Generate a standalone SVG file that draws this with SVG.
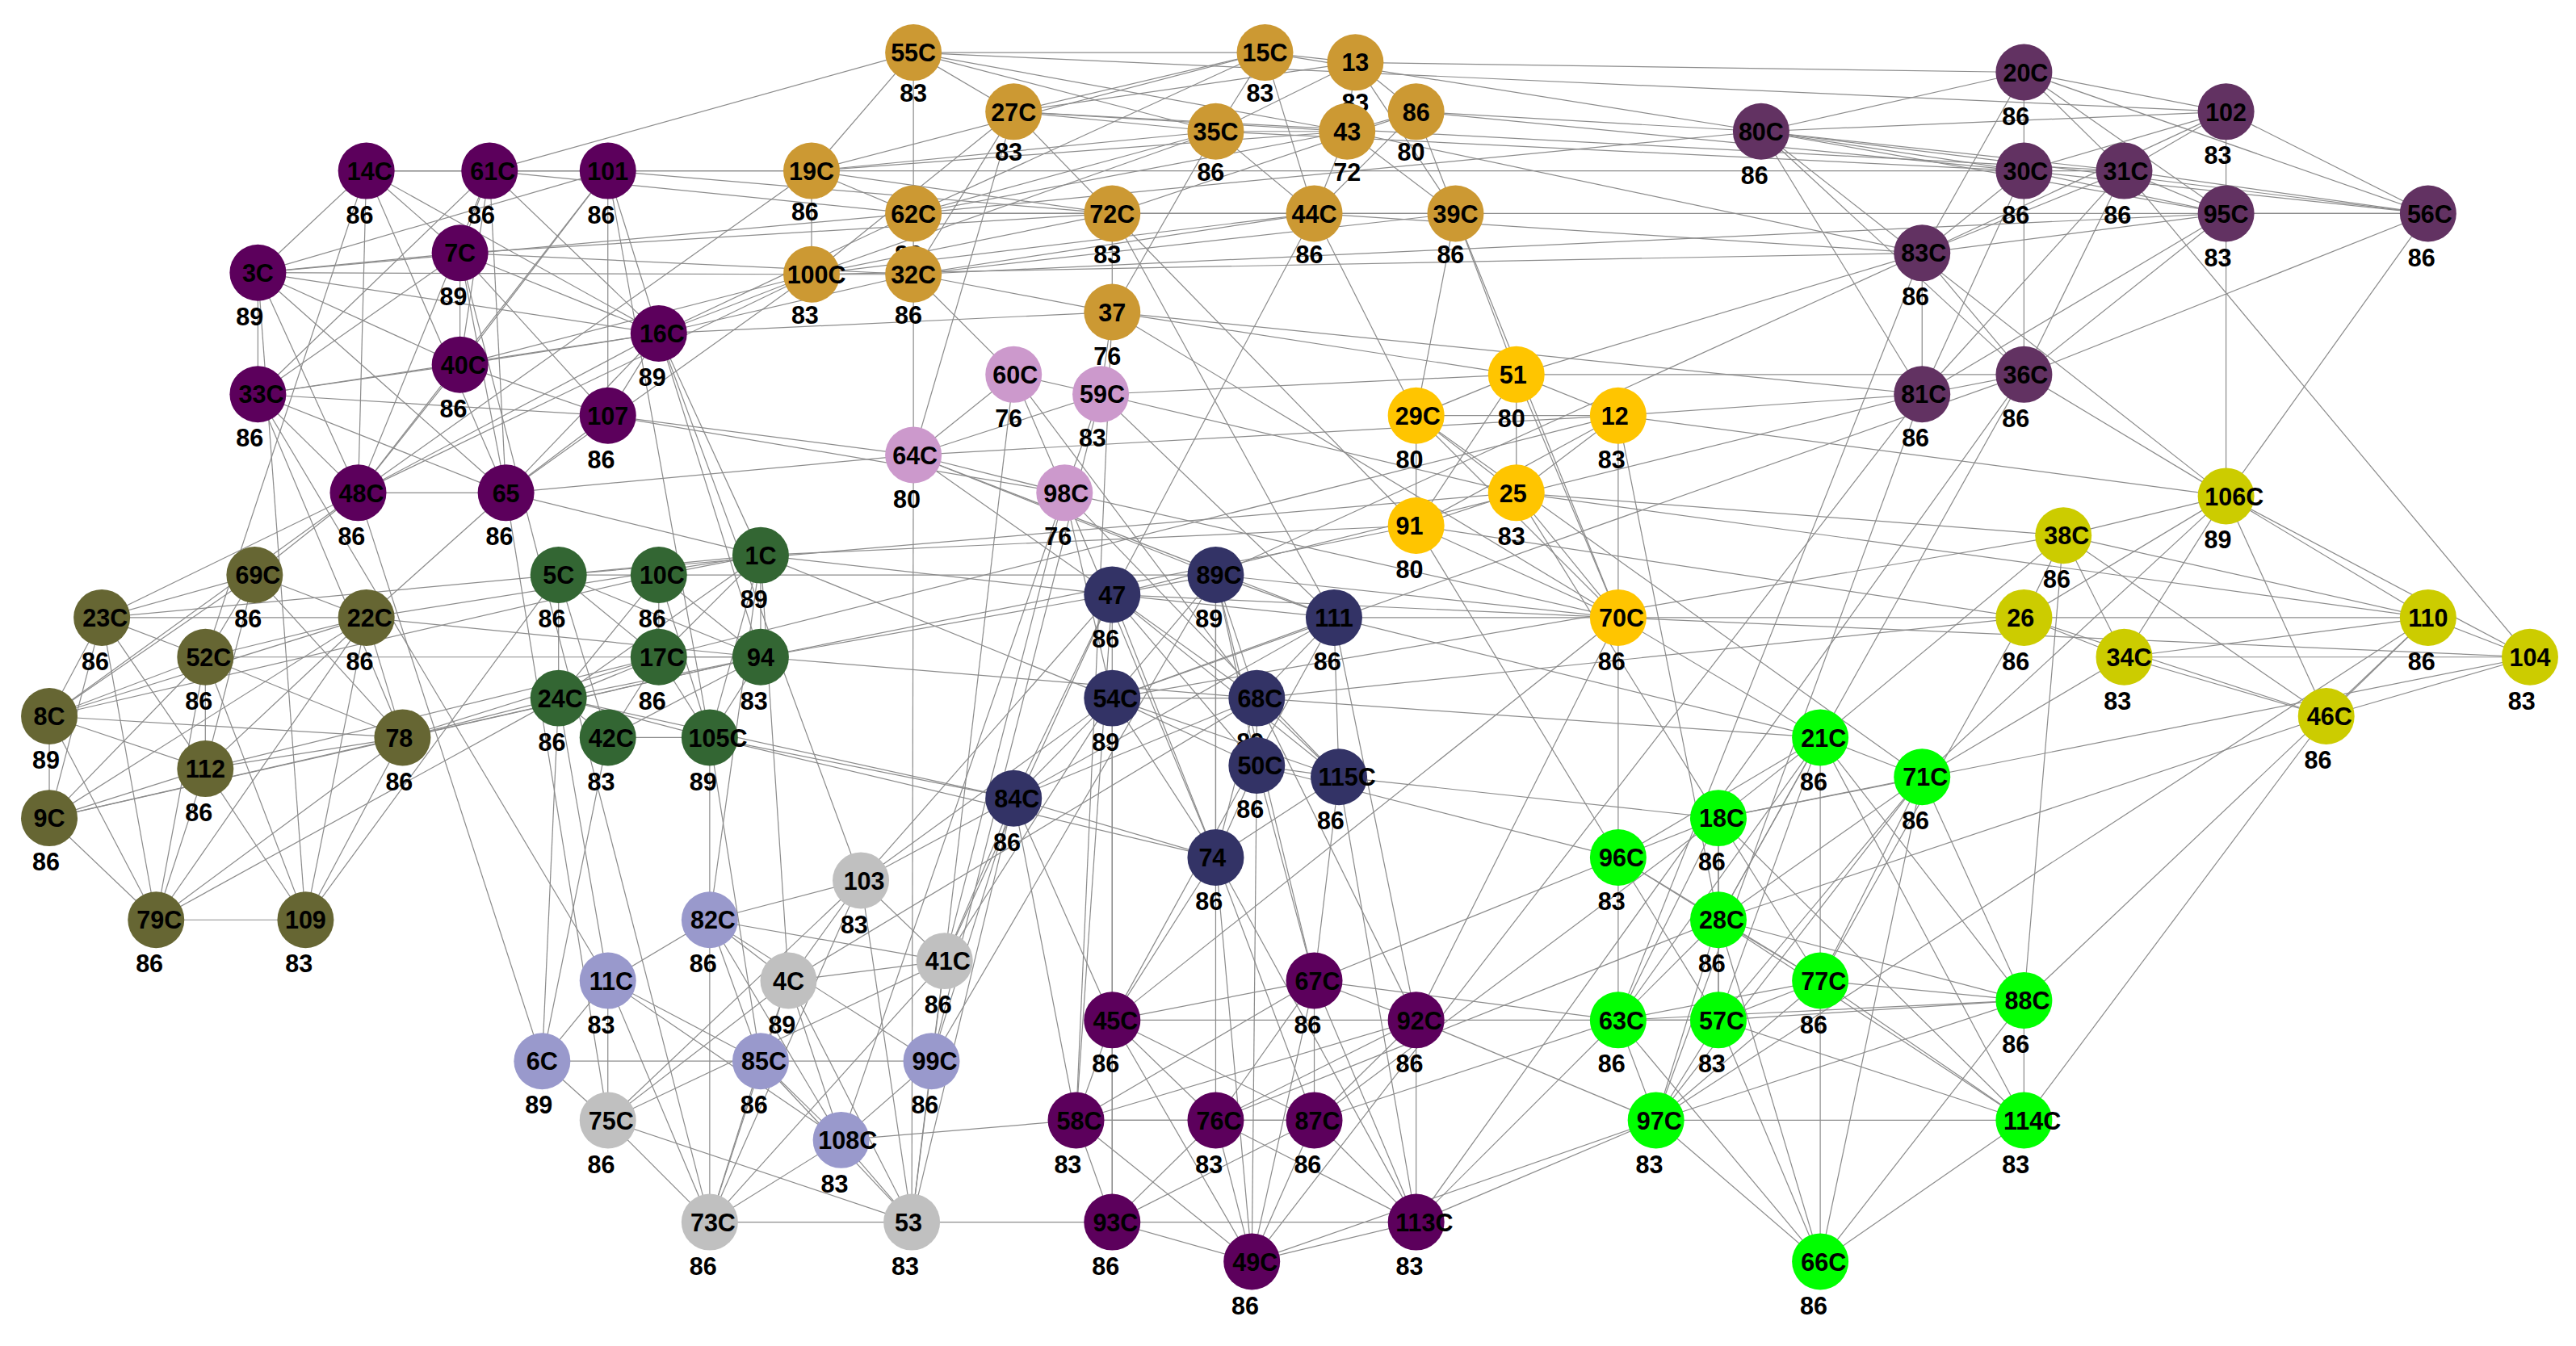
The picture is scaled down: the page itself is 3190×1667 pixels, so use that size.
<svg xmlns="http://www.w3.org/2000/svg" width="3190" height="1667" viewBox="0 0 3190 1667">
<style>
line{stroke:#8c8c8c;stroke-width:0.6}
circle{stroke:none}
text{font-family:"Liberation Sans",Arial,sans-serif;font-weight:bold;font-size:15px;text-anchor:middle;fill:#000}
.pu{fill:#5c005c}.go{fill:#cc9933}.pk{fill:#cc99cc}.ye{fill:#ffc500}.pl{fill:#623262}.oy{fill:#cccc00}.dg{fill:#336633}.ol{fill:#666633}.nv{fill:#333366}.lv{fill:#9999cc}.gr{fill:#c0c0c0}.gn{fill:#00ff00}
</style>
<rect width="3190" height="1667" fill="#fff"/>
<g transform="scale(2.0344)">
<g id="connectors">
<line x1="556" y1="32" x2="770" y2="32"/><line x1="556" y1="32" x2="617" y2="68"/><line x1="556" y1="32" x2="556" y2="130"/><line x1="556" y1="32" x2="740" y2="80"/><line x1="556" y1="32" x2="820" y2="80"/><line x1="556" y1="32" x2="494" y2="104"/>
<line x1="770" y1="32" x2="617" y2="68"/><line x1="770" y1="32" x2="740" y2="80"/><line x1="770" y1="32" x2="825" y2="38"/><line x1="770" y1="32" x2="800" y2="130"/><line x1="770" y1="32" x2="556" y2="130"/><line x1="770" y1="32" x2="494" y2="104"/>
<line x1="825" y1="38" x2="617" y2="68"/><line x1="825" y1="38" x2="740" y2="80"/><line x1="825" y1="38" x2="820" y2="80"/><line x1="825" y1="38" x2="862" y2="68"/><line x1="825" y1="38" x2="886" y2="130"/>
<line x1="617" y1="68" x2="740" y2="80"/><line x1="617" y1="68" x2="820" y2="80"/><line x1="617" y1="68" x2="677" y2="130"/><line x1="617" y1="68" x2="494" y2="167"/><line x1="617" y1="68" x2="556" y2="167"/>
<line x1="740" y1="80" x2="820" y2="80"/><line x1="740" y1="80" x2="494" y2="104"/><line x1="740" y1="80" x2="556" y2="130"/><line x1="740" y1="80" x2="494" y2="167"/><line x1="740" y1="80" x2="800" y2="130"/>
<line x1="820" y1="80" x2="862" y2="68"/><line x1="820" y1="80" x2="800" y2="130"/><line x1="820" y1="80" x2="886" y2="130"/><line x1="820" y1="80" x2="556" y2="130"/><line x1="820" y1="80" x2="494" y2="104"/>
<line x1="862" y1="68" x2="886" y2="130"/><line x1="862" y1="68" x2="800" y2="130"/><line x1="862" y1="68" x2="677" y2="130"/>
<line x1="494" y1="104" x2="556" y2="130"/><line x1="494" y1="104" x2="677" y2="130"/><line x1="494" y1="104" x2="494" y2="167"/>
<line x1="556" y1="130" x2="677" y2="130"/><line x1="556" y1="130" x2="800" y2="130"/><line x1="556" y1="130" x2="886" y2="130"/><line x1="556" y1="130" x2="556" y2="167"/>
<line x1="677" y1="130" x2="800" y2="130"/><line x1="677" y1="130" x2="677" y2="190"/><line x1="800" y1="130" x2="886" y2="130"/>
<line x1="494" y1="167" x2="556" y2="167"/><line x1="494" y1="167" x2="677" y2="130"/><line x1="556" y1="167" x2="886" y2="130"/><line x1="556" y1="167" x2="677" y2="190"/><line x1="677" y1="190" x2="740" y2="80"/><line x1="494" y1="167" x2="800" y2="130"/><line x1="556" y1="167" x2="800" y2="130"/>
<line x1="223" y1="104" x2="298" y2="104"/><line x1="223" y1="104" x2="370" y2="104"/><line x1="223" y1="104" x2="157" y2="166"/><line x1="223" y1="104" x2="280" y2="154"/><line x1="223" y1="104" x2="401" y2="203"/><line x1="223" y1="104" x2="218" y2="300"/><line x1="223" y1="104" x2="308" y2="300"/>
<line x1="298" y1="104" x2="370" y2="104"/><line x1="298" y1="104" x2="280" y2="154"/><line x1="298" y1="104" x2="280" y2="222"/><line x1="298" y1="104" x2="401" y2="203"/><line x1="298" y1="104" x2="218" y2="300"/><line x1="298" y1="104" x2="308" y2="300"/><line x1="298" y1="104" x2="157" y2="240"/>
<line x1="370" y1="104" x2="157" y2="166"/><line x1="370" y1="104" x2="401" y2="203"/><line x1="370" y1="104" x2="370" y2="253"/><line x1="370" y1="104" x2="218" y2="300"/><line x1="370" y1="104" x2="280" y2="222"/>
<line x1="157" y1="166" x2="280" y2="154"/><line x1="157" y1="166" x2="401" y2="203"/><line x1="157" y1="166" x2="280" y2="222"/><line x1="157" y1="166" x2="157" y2="240"/><line x1="157" y1="166" x2="218" y2="300"/><line x1="157" y1="166" x2="308" y2="300"/>
<line x1="280" y1="154" x2="280" y2="222"/><line x1="280" y1="154" x2="370" y2="253"/><line x1="280" y1="154" x2="401" y2="203"/><line x1="280" y1="154" x2="157" y2="240"/><line x1="280" y1="154" x2="308" y2="300"/>
<line x1="280" y1="222" x2="157" y2="240"/><line x1="280" y1="222" x2="370" y2="253"/><line x1="280" y1="222" x2="401" y2="203"/><line x1="280" y1="222" x2="218" y2="300"/>
<line x1="401" y1="203" x2="370" y2="253"/><line x1="401" y1="203" x2="308" y2="300"/><line x1="401" y1="203" x2="218" y2="300"/><line x1="157" y1="240" x2="370" y2="253"/><line x1="157" y1="240" x2="218" y2="300"/><line x1="157" y1="240" x2="308" y2="300"/><line x1="370" y1="253" x2="308" y2="300"/><line x1="218" y1="300" x2="308" y2="300"/>
<line x1="1232" y1="44" x2="1072" y2="80"/><line x1="1232" y1="44" x2="1232" y2="104"/><line x1="1232" y1="44" x2="1293" y2="104"/><line x1="1232" y1="44" x2="1355" y2="68"/><line x1="1232" y1="44" x2="1355" y2="130"/><line x1="1232" y1="44" x2="1478" y2="130"/><line x1="1232" y1="44" x2="1170" y2="154"/>
<line x1="1355" y1="68" x2="1072" y2="80"/><line x1="1355" y1="68" x2="1232" y2="104"/><line x1="1355" y1="68" x2="1293" y2="104"/><line x1="1355" y1="68" x2="1355" y2="130"/><line x1="1355" y1="68" x2="1478" y2="130"/><line x1="1355" y1="68" x2="1170" y2="154"/>
<line x1="1072" y1="80" x2="1232" y2="104"/><line x1="1072" y1="80" x2="1293" y2="104"/><line x1="1072" y1="80" x2="1355" y2="130"/><line x1="1072" y1="80" x2="1478" y2="130"/><line x1="1072" y1="80" x2="1170" y2="240"/><line x1="1072" y1="80" x2="1232" y2="228"/>
<line x1="1232" y1="104" x2="1293" y2="104"/><line x1="1232" y1="104" x2="1355" y2="130"/><line x1="1232" y1="104" x2="1478" y2="130"/><line x1="1232" y1="104" x2="1170" y2="154"/><line x1="1232" y1="104" x2="1232" y2="228"/><line x1="1232" y1="104" x2="1170" y2="240"/>
<line x1="1293" y1="104" x2="1355" y2="130"/><line x1="1293" y1="104" x2="1478" y2="130"/><line x1="1293" y1="104" x2="1170" y2="154"/><line x1="1293" y1="104" x2="1232" y2="228"/><line x1="1293" y1="104" x2="1170" y2="240"/>
<line x1="1355" y1="130" x2="1478" y2="130"/><line x1="1355" y1="130" x2="1170" y2="154"/><line x1="1355" y1="130" x2="1170" y2="240"/><line x1="1355" y1="130" x2="1232" y2="228"/><line x1="1170" y1="154" x2="1170" y2="240"/><line x1="1170" y1="154" x2="1232" y2="228"/><line x1="1170" y1="240" x2="1232" y2="228"/><line x1="1478" y1="130" x2="1232" y2="228"/>
<line x1="923" y1="228" x2="862" y2="253"/><line x1="923" y1="228" x2="985" y2="253"/><line x1="923" y1="228" x2="862" y2="320"/><line x1="923" y1="228" x2="923" y2="300"/><line x1="923" y1="228" x2="985" y2="376"/><line x1="862" y1="253" x2="985" y2="253"/><line x1="862" y1="253" x2="862" y2="320"/><line x1="862" y1="253" x2="923" y2="300"/><line x1="862" y1="253" x2="985" y2="376"/><line x1="985" y1="253" x2="862" y2="320"/><line x1="985" y1="253" x2="923" y2="300"/><line x1="985" y1="253" x2="985" y2="376"/><line x1="862" y1="320" x2="923" y2="300"/><line x1="862" y1="320" x2="985" y2="376"/><line x1="923" y1="300" x2="985" y2="376"/>
<line x1="617" y1="228" x2="670" y2="240"/><line x1="617" y1="228" x2="556" y2="277"/><line x1="617" y1="228" x2="648" y2="300"/><line x1="670" y1="240" x2="556" y2="277"/><line x1="670" y1="240" x2="648" y2="300"/><line x1="556" y1="277" x2="648" y2="300"/>
<line x1="1355" y1="302" x2="1256" y2="326"/><line x1="1355" y1="302" x2="1232" y2="376"/><line x1="1355" y1="302" x2="1293" y2="400"/><line x1="1355" y1="302" x2="1478" y2="376"/><line x1="1355" y1="302" x2="1540" y2="400"/><line x1="1355" y1="302" x2="1416" y2="436"/><line x1="1256" y1="326" x2="1232" y2="376"/><line x1="1256" y1="326" x2="1293" y2="400"/><line x1="1256" y1="326" x2="1478" y2="376"/><line x1="1256" y1="326" x2="1416" y2="436"/><line x1="1232" y1="376" x2="1293" y2="400"/><line x1="1232" y1="376" x2="1478" y2="376"/><line x1="1232" y1="376" x2="1416" y2="436"/><line x1="1293" y1="400" x2="1478" y2="376"/><line x1="1293" y1="400" x2="1540" y2="400"/><line x1="1293" y1="400" x2="1416" y2="436"/><line x1="1478" y1="376" x2="1540" y2="400"/><line x1="1478" y1="376" x2="1416" y2="436"/><line x1="1540" y1="400" x2="1416" y2="436"/>
<line x1="340" y1="350" x2="401" y2="350"/><line x1="340" y1="350" x2="463" y2="338"/><line x1="340" y1="350" x2="401" y2="400"/><line x1="340" y1="350" x2="463" y2="400"/><line x1="340" y1="350" x2="340" y2="425"/><line x1="340" y1="350" x2="370" y2="449"/><line x1="401" y1="350" x2="463" y2="338"/><line x1="401" y1="350" x2="401" y2="400"/><line x1="401" y1="350" x2="463" y2="400"/><line x1="401" y1="350" x2="340" y2="425"/><line x1="401" y1="350" x2="432" y2="449"/><line x1="463" y1="338" x2="401" y2="400"/><line x1="463" y1="338" x2="463" y2="400"/><line x1="463" y1="338" x2="340" y2="425"/><line x1="463" y1="338" x2="432" y2="449"/><line x1="401" y1="400" x2="463" y2="400"/><line x1="401" y1="400" x2="340" y2="425"/><line x1="401" y1="400" x2="370" y2="449"/><line x1="401" y1="400" x2="432" y2="449"/><line x1="463" y1="400" x2="340" y2="425"/><line x1="463" y1="400" x2="370" y2="449"/><line x1="463" y1="400" x2="432" y2="449"/><line x1="340" y1="425" x2="370" y2="449"/><line x1="340" y1="425" x2="432" y2="449"/><line x1="370" y1="449" x2="432" y2="449"/>
<line x1="155" y1="350" x2="62" y2="376"/><line x1="155" y1="350" x2="125" y2="400"/><line x1="155" y1="350" x2="223" y2="376"/><line x1="155" y1="350" x2="30" y2="436"/><line x1="155" y1="350" x2="125" y2="468"/><line x1="155" y1="350" x2="245" y2="449"/><line x1="62" y1="376" x2="125" y2="400"/><line x1="62" y1="376" x2="223" y2="376"/><line x1="62" y1="376" x2="30" y2="436"/><line x1="62" y1="376" x2="125" y2="468"/><line x1="62" y1="376" x2="30" y2="498"/><line x1="62" y1="376" x2="95" y2="560"/><line x1="125" y1="400" x2="223" y2="376"/><line x1="125" y1="400" x2="30" y2="436"/><line x1="125" y1="400" x2="125" y2="468"/><line x1="125" y1="400" x2="30" y2="498"/><line x1="125" y1="400" x2="95" y2="560"/><line x1="125" y1="400" x2="186" y2="560"/><line x1="125" y1="400" x2="245" y2="449"/><line x1="223" y1="376" x2="30" y2="436"/><line x1="223" y1="376" x2="125" y2="468"/><line x1="223" y1="376" x2="245" y2="449"/><line x1="223" y1="376" x2="30" y2="498"/><line x1="223" y1="376" x2="186" y2="560"/><line x1="223" y1="376" x2="95" y2="560"/><line x1="30" y1="436" x2="125" y2="468"/><line x1="30" y1="436" x2="30" y2="498"/><line x1="30" y1="436" x2="95" y2="560"/><line x1="30" y1="436" x2="245" y2="449"/><line x1="125" y1="468" x2="245" y2="449"/><line x1="125" y1="468" x2="30" y2="498"/><line x1="125" y1="468" x2="95" y2="560"/><line x1="125" y1="468" x2="186" y2="560"/><line x1="245" y1="449" x2="30" y2="498"/><line x1="245" y1="449" x2="95" y2="560"/><line x1="245" y1="449" x2="186" y2="560"/><line x1="30" y1="498" x2="95" y2="560"/><line x1="95" y1="560" x2="186" y2="560"/>
<line x1="677" y1="362" x2="740" y2="350"/><line x1="677" y1="362" x2="812" y2="376"/><line x1="677" y1="362" x2="677" y2="425"/><line x1="677" y1="362" x2="765" y2="425"/><line x1="677" y1="362" x2="765" y2="466"/><line x1="677" y1="362" x2="815" y2="473"/><line x1="677" y1="362" x2="617" y2="486"/><line x1="677" y1="362" x2="740" y2="522"/><line x1="740" y1="350" x2="812" y2="376"/><line x1="740" y1="350" x2="677" y2="425"/><line x1="740" y1="350" x2="765" y2="425"/><line x1="740" y1="350" x2="765" y2="466"/><line x1="740" y1="350" x2="740" y2="522"/><line x1="812" y1="376" x2="677" y2="425"/><line x1="812" y1="376" x2="765" y2="425"/><line x1="812" y1="376" x2="815" y2="473"/><line x1="812" y1="376" x2="617" y2="486"/><line x1="677" y1="425" x2="765" y2="425"/><line x1="677" y1="425" x2="765" y2="466"/><line x1="677" y1="425" x2="815" y2="473"/><line x1="677" y1="425" x2="617" y2="486"/><line x1="677" y1="425" x2="740" y2="522"/><line x1="765" y1="425" x2="765" y2="466"/><line x1="765" y1="425" x2="815" y2="473"/><line x1="765" y1="425" x2="617" y2="486"/><line x1="765" y1="425" x2="740" y2="522"/><line x1="765" y1="466" x2="815" y2="473"/><line x1="765" y1="466" x2="740" y2="522"/><line x1="617" y1="486" x2="740" y2="522"/><line x1="815" y1="473" x2="740" y2="522"/>
<line x1="432" y1="560" x2="370" y2="597"/><line x1="432" y1="560" x2="463" y2="646"/><line x1="432" y1="560" x2="567" y2="646"/><line x1="432" y1="560" x2="512" y2="694"/><line x1="370" y1="597" x2="330" y2="646"/><line x1="370" y1="597" x2="463" y2="646"/><line x1="370" y1="597" x2="512" y2="694"/><line x1="330" y1="646" x2="463" y2="646"/><line x1="463" y1="646" x2="567" y2="646"/><line x1="463" y1="646" x2="512" y2="694"/><line x1="567" y1="646" x2="512" y2="694"/>
<line x1="524" y1="536" x2="575" y2="585"/><line x1="524" y1="536" x2="480" y2="597"/><line x1="524" y1="536" x2="370" y2="682"/><line x1="524" y1="536" x2="432" y2="744"/><line x1="524" y1="536" x2="555" y2="744"/><line x1="575" y1="585" x2="480" y2="597"/><line x1="575" y1="585" x2="432" y2="744"/><line x1="575" y1="585" x2="555" y2="744"/><line x1="575" y1="585" x2="370" y2="682"/><line x1="480" y1="597" x2="370" y2="682"/><line x1="480" y1="597" x2="432" y2="744"/><line x1="480" y1="597" x2="555" y2="744"/><line x1="370" y1="682" x2="432" y2="744"/><line x1="370" y1="682" x2="555" y2="744"/><line x1="432" y1="744" x2="555" y2="744"/>
<line x1="432" y1="560" x2="480" y2="597"/><line x1="432" y1="560" x2="575" y2="585"/><line x1="432" y1="560" x2="432" y2="744"/><line x1="370" y1="597" x2="370" y2="682"/><line x1="370" y1="597" x2="432" y2="744"/><line x1="330" y1="646" x2="370" y2="682"/><line x1="463" y1="646" x2="432" y2="744"/><line x1="463" y1="646" x2="555" y2="744"/><line x1="463" y1="646" x2="480" y2="597"/><line x1="567" y1="646" x2="575" y2="585"/><line x1="567" y1="646" x2="555" y2="744"/><line x1="512" y1="694" x2="480" y2="597"/><line x1="512" y1="694" x2="555" y2="744"/><line x1="512" y1="694" x2="432" y2="744"/><line x1="512" y1="694" x2="655" y2="682"/><line x1="432" y1="560" x2="524" y2="536"/>
<line x1="677" y1="621" x2="800" y2="597"/><line x1="677" y1="621" x2="862" y2="621"/><line x1="677" y1="621" x2="655" y2="682"/><line x1="677" y1="621" x2="740" y2="682"/><line x1="677" y1="621" x2="800" y2="682"/><line x1="677" y1="621" x2="677" y2="744"/><line x1="677" y1="621" x2="762" y2="768"/><line x1="800" y1="597" x2="862" y2="621"/><line x1="800" y1="597" x2="655" y2="682"/><line x1="800" y1="597" x2="740" y2="682"/><line x1="800" y1="597" x2="800" y2="682"/><line x1="800" y1="597" x2="762" y2="768"/><line x1="800" y1="597" x2="862" y2="744"/><line x1="862" y1="621" x2="740" y2="682"/><line x1="862" y1="621" x2="800" y2="682"/><line x1="862" y1="621" x2="862" y2="744"/><line x1="862" y1="621" x2="655" y2="682"/><line x1="655" y1="682" x2="740" y2="682"/><line x1="655" y1="682" x2="800" y2="682"/><line x1="655" y1="682" x2="677" y2="744"/><line x1="655" y1="682" x2="762" y2="768"/><line x1="740" y1="682" x2="800" y2="682"/><line x1="740" y1="682" x2="677" y2="744"/><line x1="740" y1="682" x2="762" y2="768"/><line x1="740" y1="682" x2="862" y2="744"/><line x1="800" y1="682" x2="677" y2="744"/><line x1="800" y1="682" x2="762" y2="768"/><line x1="800" y1="682" x2="862" y2="744"/><line x1="677" y1="744" x2="762" y2="768"/><line x1="677" y1="744" x2="862" y2="744"/><line x1="762" y1="768" x2="862" y2="744"/><line x1="555" y1="744" x2="677" y2="744"/>
<line x1="1108" y1="449" x2="1170" y2="473"/><line x1="1108" y1="449" x2="1046" y2="498"/><line x1="1108" y1="449" x2="985" y2="522"/><line x1="1108" y1="449" x2="1046" y2="560"/><line x1="1108" y1="449" x2="1108" y2="597"/><line x1="1108" y1="449" x2="985" y2="621"/><line x1="1108" y1="449" x2="1046" y2="621"/><line x1="1108" y1="449" x2="1232" y2="609"/><line x1="1108" y1="449" x2="1232" y2="682"/><line x1="1170" y1="473" x2="1046" y2="498"/><line x1="1170" y1="473" x2="1046" y2="560"/><line x1="1170" y1="473" x2="1108" y2="597"/><line x1="1170" y1="473" x2="1232" y2="609"/><line x1="1170" y1="473" x2="1008" y2="682"/><line x1="1170" y1="473" x2="1108" y2="768"/><line x1="1170" y1="473" x2="1046" y2="621"/><line x1="1046" y1="498" x2="985" y2="522"/><line x1="1046" y1="498" x2="1046" y2="560"/><line x1="1046" y1="498" x2="985" y2="621"/><line x1="1046" y1="498" x2="1046" y2="621"/><line x1="1046" y1="498" x2="1108" y2="597"/><line x1="1046" y1="498" x2="1232" y2="682"/><line x1="985" y1="522" x2="1046" y2="560"/><line x1="985" y1="522" x2="985" y2="621"/><line x1="985" y1="522" x2="1046" y2="621"/><line x1="985" y1="522" x2="1108" y2="597"/><line x1="1046" y1="560" x2="1108" y2="597"/><line x1="1046" y1="560" x2="985" y2="621"/><line x1="1046" y1="560" x2="1046" y2="621"/><line x1="1046" y1="560" x2="1232" y2="609"/><line x1="1046" y1="560" x2="1008" y2="682"/><line x1="1046" y1="560" x2="1232" y2="682"/><line x1="1046" y1="560" x2="1108" y2="768"/><line x1="1108" y1="597" x2="985" y2="621"/><line x1="1108" y1="597" x2="1046" y2="621"/><line x1="1108" y1="597" x2="1232" y2="609"/><line x1="1108" y1="597" x2="1008" y2="682"/><line x1="1108" y1="597" x2="1232" y2="682"/><line x1="1108" y1="597" x2="1108" y2="768"/><line x1="985" y1="621" x2="1046" y2="621"/><line x1="985" y1="621" x2="1008" y2="682"/><line x1="985" y1="621" x2="1232" y2="609"/><line x1="1046" y1="621" x2="1008" y2="682"/><line x1="1046" y1="621" x2="1232" y2="609"/><line x1="1046" y1="621" x2="1108" y2="768"/><line x1="1046" y1="621" x2="1232" y2="682"/><line x1="1232" y1="609" x2="1008" y2="682"/><line x1="1232" y1="609" x2="1232" y2="682"/><line x1="1232" y1="609" x2="1108" y2="768"/><line x1="1008" y1="682" x2="1232" y2="682"/><line x1="1008" y1="682" x2="1108" y2="768"/><line x1="1232" y1="682" x2="1108" y2="768"/><line x1="985" y1="621" x2="1108" y2="768"/>
<line x1="223" y1="104" x2="494" y2="104"/><line x1="298" y1="104" x2="556" y2="32"/><line x1="298" y1="104" x2="556" y2="130"/><line x1="370" y1="104" x2="494" y2="104"/><line x1="370" y1="104" x2="677" y2="130"/><line x1="157" y1="166" x2="494" y2="167"/><line x1="157" y1="166" x2="556" y2="130"/><line x1="280" y1="154" x2="556" y2="167"/><line x1="280" y1="154" x2="677" y2="130"/><line x1="401" y1="203" x2="494" y2="167"/><line x1="401" y1="203" x2="556" y2="167"/><line x1="401" y1="203" x2="556" y2="130"/><line x1="401" y1="203" x2="677" y2="190"/><line x1="280" y1="222" x2="494" y2="167"/><line x1="157" y1="240" x2="401" y2="203"/><line x1="370" y1="253" x2="556" y2="277"/><line x1="370" y1="253" x2="648" y2="300"/><line x1="218" y1="300" x2="494" y2="104"/><line x1="218" y1="300" x2="494" y2="167"/><line x1="308" y1="300" x2="556" y2="277"/><line x1="308" y1="300" x2="494" y2="167"/><line x1="308" y1="300" x2="463" y2="338"/><line x1="401" y1="203" x2="463" y2="338"/><line x1="401" y1="203" x2="463" y2="400"/><line x1="370" y1="104" x2="432" y2="449"/><line x1="223" y1="104" x2="125" y2="400"/><line x1="218" y1="300" x2="62" y2="376"/><line x1="157" y1="240" x2="245" y2="449"/><line x1="157" y1="166" x2="186" y2="560"/><line x1="218" y1="300" x2="30" y2="436"/><line x1="308" y1="300" x2="223" y2="376"/><line x1="218" y1="300" x2="155" y2="350"/>
<line x1="223" y1="376" x2="463" y2="338"/><line x1="223" y1="376" x2="463" y2="400"/><line x1="245" y1="449" x2="401" y2="400"/><line x1="245" y1="449" x2="340" y2="425"/><line x1="245" y1="449" x2="463" y2="400"/><line x1="125" y1="468" x2="401" y2="400"/><line x1="125" y1="400" x2="463" y2="400"/><line x1="62" y1="376" x2="340" y2="350"/><line x1="95" y1="560" x2="340" y2="425"/><line x1="186" y1="560" x2="340" y2="350"/><line x1="30" y1="436" x2="401" y2="350"/><line x1="30" y1="498" x2="463" y2="400"/><line x1="340" y1="425" x2="370" y2="597"/><line x1="340" y1="425" x2="330" y2="646"/><line x1="370" y1="449" x2="330" y2="646"/><line x1="432" y1="449" x2="432" y2="560"/>
<line x1="463" y1="338" x2="677" y2="362"/><line x1="463" y1="338" x2="677" y2="425"/><line x1="401" y1="350" x2="740" y2="350"/><line x1="463" y1="400" x2="677" y2="362"/><line x1="463" y1="400" x2="765" y2="425"/><line x1="463" y1="400" x2="862" y2="320"/><line x1="463" y1="338" x2="862" y2="320"/><line x1="340" y1="350" x2="923" y2="300"/><line x1="401" y1="400" x2="985" y2="253"/><line x1="340" y1="425" x2="617" y2="486"/><line x1="432" y1="449" x2="617" y2="486"/><line x1="432" y1="449" x2="740" y2="522"/>
<line x1="556" y1="277" x2="677" y2="362"/><line x1="556" y1="277" x2="740" y2="350"/><line x1="556" y1="277" x2="812" y2="376"/><line x1="556" y1="277" x2="985" y2="253"/><line x1="617" y1="228" x2="765" y2="425"/><line x1="670" y1="240" x2="812" y2="376"/><line x1="670" y1="240" x2="923" y2="300"/><line x1="670" y1="240" x2="923" y2="228"/><line x1="648" y1="300" x2="677" y2="425"/><line x1="648" y1="300" x2="740" y2="522"/><line x1="648" y1="300" x2="815" y2="473"/><line x1="648" y1="300" x2="985" y2="376"/><line x1="617" y1="228" x2="556" y2="167"/><line x1="670" y1="240" x2="677" y2="190"/><line x1="556" y1="277" x2="556" y2="167"/><line x1="556" y1="277" x2="617" y2="68"/>
<line x1="677" y1="190" x2="923" y2="228"/><line x1="677" y1="190" x2="1170" y2="240"/><line x1="677" y1="190" x2="985" y2="376"/><line x1="677" y1="130" x2="862" y2="320"/><line x1="677" y1="130" x2="812" y2="376"/><line x1="800" y1="130" x2="677" y2="362"/><line x1="800" y1="130" x2="862" y2="253"/><line x1="886" y1="130" x2="862" y2="253"/><line x1="886" y1="130" x2="923" y2="228"/><line x1="886" y1="130" x2="985" y2="376"/><line x1="862" y1="68" x2="1072" y2="80"/><line x1="862" y1="68" x2="1232" y2="104"/><line x1="820" y1="80" x2="1170" y2="154"/><line x1="825" y1="38" x2="1232" y2="44"/><line x1="770" y1="32" x2="1072" y2="80"/><line x1="740" y1="80" x2="1232" y2="104"/><line x1="617" y1="68" x2="1293" y2="104"/><line x1="800" y1="130" x2="1170" y2="154"/><line x1="886" y1="130" x2="1478" y2="130"/><line x1="556" y1="130" x2="1072" y2="80"/><line x1="494" y1="167" x2="1170" y2="154"/><line x1="556" y1="167" x2="1355" y2="130"/><line x1="494" y1="104" x2="1232" y2="104"/><line x1="556" y1="32" x2="1355" y2="68"/>
<line x1="985" y1="253" x2="1170" y2="240"/><line x1="985" y1="253" x2="1355" y2="302"/><line x1="923" y1="228" x2="1170" y2="154"/><line x1="923" y1="228" x2="1232" y2="228"/><line x1="923" y1="300" x2="1256" y2="326"/><line x1="923" y1="300" x2="1478" y2="376"/><line x1="862" y1="320" x2="1232" y2="376"/><line x1="985" y1="376" x2="1232" y2="376"/><line x1="985" y1="376" x2="1108" y2="449"/><line x1="985" y1="376" x2="1540" y2="400"/><line x1="862" y1="253" x2="1170" y2="473"/><line x1="862" y1="320" x2="985" y2="522"/><line x1="923" y1="300" x2="1046" y2="498"/><line x1="985" y1="253" x2="1046" y2="560"/><line x1="985" y1="376" x2="985" y2="522"/>
<line x1="740" y1="350" x2="985" y2="376"/><line x1="812" y1="376" x2="985" y2="376"/><line x1="677" y1="362" x2="985" y2="376"/><line x1="812" y1="376" x2="1108" y2="449"/><line x1="765" y1="425" x2="1108" y2="449"/><line x1="765" y1="466" x2="985" y2="522"/><line x1="815" y1="473" x2="1046" y2="498"/><line x1="677" y1="425" x2="1256" y2="326"/><line x1="765" y1="425" x2="1232" y2="376"/><line x1="740" y1="350" x2="1170" y2="154"/><line x1="677" y1="362" x2="1170" y2="240"/><line x1="677" y1="425" x2="1232" y2="228"/>
<line x1="1170" y1="240" x2="1008" y2="682"/><line x1="1232" y1="228" x2="1046" y2="560"/><line x1="1170" y1="154" x2="985" y2="621"/><line x1="1293" y1="104" x2="1540" y2="400"/><line x1="1478" y1="130" x2="1355" y2="302"/><line x1="1072" y1="80" x2="1355" y2="302"/><line x1="1232" y1="228" x2="1355" y2="302"/><line x1="1355" y1="130" x2="1355" y2="302"/><line x1="1355" y1="302" x2="1170" y2="473"/><line x1="1256" y1="326" x2="1108" y2="449"/><line x1="1232" y1="376" x2="1108" y2="597"/><line x1="1293" y1="400" x2="1170" y2="473"/><line x1="1478" y1="376" x2="1232" y2="609"/><line x1="1540" y1="400" x2="1046" y2="498"/><line x1="1416" y1="436" x2="1232" y2="682"/><line x1="1416" y1="436" x2="1046" y2="560"/><line x1="1478" y1="376" x2="1008" y2="682"/><line x1="1256" y1="326" x2="1232" y2="609"/>
<line x1="617" y1="486" x2="677" y2="621"/><line x1="617" y1="486" x2="575" y2="585"/><line x1="617" y1="486" x2="524" y2="536"/><line x1="617" y1="486" x2="655" y2="682"/><line x1="740" y1="522" x2="762" y2="768"/><line x1="740" y1="522" x2="800" y2="682"/><line x1="740" y1="522" x2="677" y2="621"/><line x1="765" y1="466" x2="762" y2="768"/><line x1="765" y1="466" x2="800" y2="597"/><line x1="815" y1="473" x2="800" y2="597"/><line x1="815" y1="473" x2="862" y2="744"/><line x1="740" y1="522" x2="862" y2="744"/><line x1="765" y1="425" x2="862" y2="621"/><line x1="677" y1="425" x2="677" y2="744"/><line x1="677" y1="362" x2="655" y2="682"/><line x1="677" y1="362" x2="524" y2="536"/><line x1="740" y1="350" x2="740" y2="682"/><line x1="812" y1="376" x2="677" y2="621"/><line x1="812" y1="376" x2="862" y2="621"/><line x1="740" y1="350" x2="800" y2="597"/><line x1="677" y1="425" x2="575" y2="585"/><line x1="617" y1="486" x2="567" y2="646"/><line x1="617" y1="486" x2="555" y2="744"/><line x1="524" y1="536" x2="677" y2="425"/><line x1="575" y1="585" x2="677" y2="362"/><line x1="480" y1="597" x2="765" y2="425"/><line x1="567" y1="646" x2="740" y2="350"/>
<line x1="800" y1="597" x2="985" y2="621"/><line x1="800" y1="597" x2="985" y2="522"/><line x1="862" y1="621" x2="1008" y2="682"/><line x1="862" y1="621" x2="1046" y2="621"/><line x1="800" y1="682" x2="985" y2="621"/><line x1="862" y1="744" x2="1008" y2="682"/><line x1="862" y1="744" x2="985" y2="621"/><line x1="762" y1="768" x2="1008" y2="682"/><line x1="740" y1="682" x2="1046" y2="560"/><line x1="800" y1="682" x2="1046" y2="498"/><line x1="677" y1="621" x2="985" y2="376"/><line x1="862" y1="621" x2="985" y2="376"/><line x1="862" y1="744" x2="1232" y2="228"/><line x1="762" y1="768" x2="1170" y2="240"/><line x1="655" y1="682" x2="677" y2="190"/><line x1="677" y1="621" x2="677" y2="425"/><line x1="575" y1="585" x2="617" y2="228"/>
<line x1="524" y1="536" x2="401" y2="203"/><line x1="432" y1="560" x2="463" y2="338"/><line x1="480" y1="597" x2="463" y2="338"/><line x1="512" y1="694" x2="648" y2="300"/><line x1="555" y1="744" x2="556" y2="277"/><line x1="370" y1="682" x2="308" y2="300"/><line x1="330" y1="646" x2="218" y2="300"/><line x1="432" y1="744" x2="280" y2="154"/><line x1="370" y1="597" x2="157" y2="240"/><line x1="463" y1="646" x2="432" y2="449"/><line x1="567" y1="646" x2="670" y2="240"/><line x1="575" y1="585" x2="648" y2="300"/>
</g>
<g id="n55C"><circle class="go" cx="556" cy="32" r="17.2"/><text x="556" y="37.5">55C</text><text x="556" y="62">83</text></g>
<g id="n15C"><circle class="go" cx="770" cy="32" r="17.2"/><text x="770" y="37.5">15C</text><text x="767" y="62">83</text></g>
<g id="n13"><circle class="go" cx="825" cy="38" r="17.2"/><text x="825" y="43.5">13</text><text x="825" y="68">83</text></g>
<g id="n27C"><circle class="go" cx="617" cy="68" r="17.2"/><text x="617" y="73.5">27C</text><text x="614" y="98">83</text></g>
<g id="n86"><circle class="go" cx="862" cy="68" r="17.2"/><text x="862" y="73.5">86</text><text x="859" y="98">80</text></g>
<g id="n35C"><circle class="go" cx="740" cy="80" r="17.2"/><text x="740" y="85.5">35C</text><text x="737" y="110">86</text></g>
<g id="n43"><circle class="go" cx="820" cy="80" r="17.2"/><text x="820" y="85.5">43</text><text x="820" y="110">72</text></g>
<g id="n19C"><circle class="go" cx="494" cy="104" r="17.2"/><text x="494" y="109.5">19C</text><text x="490" y="134">86</text></g>
<g id="n62C"><circle class="go" cx="556" cy="130" r="17.2"/><text x="556" y="135.5">62C</text><text x="553" y="160">86</text></g>
<g id="n72C"><circle class="go" cx="677" cy="130" r="17.2"/><text x="677" y="135.5">72C</text><text x="674" y="160">83</text></g>
<g id="n44C"><circle class="go" cx="800" cy="130" r="17.2"/><text x="800" y="135.5">44C</text><text x="797" y="160">86</text></g>
<g id="n39C"><circle class="go" cx="886" cy="130" r="17.2"/><text x="886" y="135.5">39C</text><text x="883" y="160">86</text></g>
<g id="n32C"><circle class="go" cx="556" cy="167" r="17.2"/><text x="556" y="172.5">32C</text><text x="553" y="197">86</text></g>
<g id="n100C"><circle class="go" cx="494" cy="167" r="17.2"/><text x="497" y="172.5">100C</text><text x="490" y="197">83</text></g>
<g id="n37"><circle class="go" cx="677" cy="190" r="17.2"/><text x="677" y="195.5">37</text><text x="674" y="222">76</text></g>
<g id="n14C"><circle class="pu" cx="223" cy="104" r="17.2"/><text x="225" y="109.5">14C</text><text x="219" y="136">86</text></g>
<g id="n61C"><circle class="pu" cx="298" cy="104" r="17.2"/><text x="300" y="109.5">61C</text><text x="293" y="136">86</text></g>
<g id="n101"><circle class="pu" cx="370" cy="104" r="17.2"/><text x="370" y="109.5">101</text><text x="366" y="136">86</text></g>
<g id="n3C"><circle class="pu" cx="157" cy="166" r="17.2"/><text x="157" y="171.5">3C</text><text x="152" y="198">89</text></g>
<g id="n7C"><circle class="pu" cx="280" cy="154" r="17.2"/><text x="280" y="159.5">7C</text><text x="276" y="186">89</text></g>
<g id="n40C"><circle class="pu" cx="280" cy="222" r="17.2"/><text x="282" y="227.5">40C</text><text x="276" y="254">86</text></g>
<g id="n16C"><circle class="pu" cx="401" cy="203" r="17.2"/><text x="403" y="208.5">16C</text><text x="397" y="235">89</text></g>
<g id="n33C"><circle class="pu" cx="157" cy="240" r="17.2"/><text x="159" y="245.5">33C</text><text x="152" y="272">86</text></g>
<g id="n107"><circle class="pu" cx="370" cy="253" r="17.2"/><text x="370" y="258.5">107</text><text x="366" y="285">86</text></g>
<g id="n48C"><circle class="pu" cx="218" cy="300" r="17.2"/><text x="220" y="305.5">48C</text><text x="214" y="332">86</text></g>
<g id="n65"><circle class="pu" cx="308" cy="300" r="17.2"/><text x="308" y="305.5">65</text><text x="304" y="332">86</text></g>
<g id="n60C"><circle class="pk" cx="617" cy="228" r="17.2"/><text x="618" y="233.5">60C</text><text x="614" y="260">76</text></g>
<g id="n59C"><circle class="pk" cx="670" cy="240" r="17.2"/><text x="671" y="245.5">59C</text><text x="665" y="272">83</text></g>
<g id="n64C"><circle class="pk" cx="556" cy="277" r="17.2"/><text x="557" y="282.5">64C</text><text x="552" y="309">80</text></g>
<g id="n98C"><circle class="pk" cx="648" cy="300" r="17.2"/><text x="649" y="305.5">98C</text><text x="644" y="332">76</text></g>
<g id="n51"><circle class="ye" cx="923" cy="228" r="17.2"/><text x="921" y="233.5">51</text><text x="920" y="260">80</text></g>
<g id="n29C"><circle class="ye" cx="862" cy="253" r="17.2"/><text x="863" y="258.5">29C</text><text x="858" y="285">80</text></g>
<g id="n12"><circle class="ye" cx="985" cy="253" r="17.2"/><text x="983" y="258.5">12</text><text x="981" y="285">83</text></g>
<g id="n25"><circle class="ye" cx="923" cy="300" r="17.2"/><text x="921" y="305.5">25</text><text x="920" y="332">83</text></g>
<g id="n91"><circle class="ye" cx="862" cy="320" r="17.2"/><text x="858" y="325.5">91</text><text x="858" y="352">80</text></g>
<g id="n70C"><circle class="ye" cx="985" cy="376" r="17.2"/><text x="987" y="381.5">70C</text><text x="981" y="408">86</text></g>
<g id="n20C"><circle class="pl" cx="1232" cy="44" r="17.2"/><text x="1233" y="49.5">20C</text><text x="1227" y="76">86</text></g>
<g id="n102"><circle class="pl" cx="1355" cy="68" r="17.2"/><text x="1355" y="73.5">102</text><text x="1350" y="100">83</text></g>
<g id="n80C"><circle class="pl" cx="1072" cy="80" r="17.2"/><text x="1072" y="85.5">80C</text><text x="1068" y="112">86</text></g>
<g id="n30C"><circle class="pl" cx="1232" cy="104" r="17.2"/><text x="1233" y="109.5">30C</text><text x="1227" y="136">86</text></g>
<g id="n31C"><circle class="pl" cx="1293" cy="104" r="17.2"/><text x="1294" y="109.5">31C</text><text x="1289" y="136">86</text></g>
<g id="n95C"><circle class="pl" cx="1355" cy="130" r="17.2"/><text x="1355" y="135.5">95C</text><text x="1350" y="162">83</text></g>
<g id="n56C"><circle class="pl" cx="1478" cy="130" r="17.2"/><text x="1479" y="135.5">56C</text><text x="1474" y="162">86</text></g>
<g id="n83C"><circle class="pl" cx="1170" cy="154" r="17.2"/><text x="1171" y="159.5">83C</text><text x="1166" y="186">86</text></g>
<g id="n36C"><circle class="pl" cx="1232" cy="228" r="17.2"/><text x="1233" y="233.5">36C</text><text x="1227" y="260">86</text></g>
<g id="n81C"><circle class="pl" cx="1170" cy="240" r="17.2"/><text x="1171" y="245.5">81C</text><text x="1166" y="272">86</text></g>
<g id="n106C"><circle class="oy" cx="1355" cy="302" r="17.2"/><text x="1360" y="307.5">106C</text><text x="1350" y="334">89</text></g>
<g id="n38C"><circle class="oy" cx="1256" cy="326" r="17.2"/><text x="1258" y="331.5">38C</text><text x="1252" y="358">86</text></g>
<g id="n26"><circle class="oy" cx="1232" cy="376" r="17.2"/><text x="1230" y="381.5">26</text><text x="1227" y="408">86</text></g>
<g id="n34C"><circle class="oy" cx="1293" cy="400" r="17.2"/><text x="1296" y="405.5">34C</text><text x="1289" y="432">83</text></g>
<g id="n110"><circle class="oy" cx="1478" cy="376" r="17.2"/><text x="1478" y="381.5">110</text><text x="1474" y="408">86</text></g>
<g id="n104"><circle class="oy" cx="1540" cy="400" r="17.2"/><text x="1540" y="405.5">104</text><text x="1535" y="432">83</text></g>
<g id="n46C"><circle class="oy" cx="1416" cy="436" r="17.2"/><text x="1418" y="441.5">46C</text><text x="1411" y="468">86</text></g>
<g id="n5C"><circle class="dg" cx="340" cy="350" r="17.2"/><text x="340" y="355.5">5C</text><text x="336" y="382">86</text></g>
<g id="n10C"><circle class="dg" cx="401" cy="350" r="17.2"/><text x="403" y="355.5">10C</text><text x="397" y="382">86</text></g>
<g id="n1C"><circle class="dg" cx="463" cy="338" r="17.2"/><text x="463" y="343.5">1C</text><text x="459" y="370">89</text></g>
<g id="n17C"><circle class="dg" cx="401" cy="400" r="17.2"/><text x="403" y="405.5">17C</text><text x="397" y="432">86</text></g>
<g id="n94"><circle class="dg" cx="463" cy="400" r="17.2"/><text x="463" y="405.5">94</text><text x="459" y="432">83</text></g>
<g id="n24C"><circle class="dg" cx="340" cy="425" r="17.2"/><text x="341" y="430.5">24C</text><text x="336" y="457">86</text></g>
<g id="n42C"><circle class="dg" cx="370" cy="449" r="17.2"/><text x="372" y="454.5">42C</text><text x="366" y="481">83</text></g>
<g id="n105C"><circle class="dg" cx="432" cy="449" r="17.2"/><text x="437" y="454.5">105C</text><text x="428" y="481">89</text></g>
<g id="n69C"><circle class="ol" cx="155" cy="350" r="17.2"/><text x="157" y="355.5">69C</text><text x="151" y="382">86</text></g>
<g id="n23C"><circle class="ol" cx="62" cy="376" r="17.2"/><text x="64" y="381.5">23C</text><text x="58" y="408">86</text></g>
<g id="n52C"><circle class="ol" cx="125" cy="400" r="17.2"/><text x="127" y="405.5">52C</text><text x="121" y="432">86</text></g>
<g id="n22C"><circle class="ol" cx="223" cy="376" r="17.2"/><text x="225" y="381.5">22C</text><text x="219" y="408">86</text></g>
<g id="n8C"><circle class="ol" cx="30" cy="436" r="17.2"/><text x="30" y="441.5">8C</text><text x="28" y="468">89</text></g>
<g id="n112"><circle class="ol" cx="125" cy="468" r="17.2"/><text x="125" y="473.5">112</text><text x="121" y="500">86</text></g>
<g id="n78"><circle class="ol" cx="245" cy="449" r="17.2"/><text x="243" y="454.5">78</text><text x="243" y="481">86</text></g>
<g id="n9C"><circle class="ol" cx="30" cy="498" r="17.2"/><text x="30" y="503.5">9C</text><text x="28" y="530">86</text></g>
<g id="n79C"><circle class="ol" cx="95" cy="560" r="17.2"/><text x="97" y="565.5">79C</text><text x="91" y="592">86</text></g>
<g id="n109"><circle class="ol" cx="186" cy="560" r="17.2"/><text x="186" y="565.5">109</text><text x="182" y="592">83</text></g>
<g id="n47"><circle class="nv" cx="677" cy="362" r="17.2"/><text x="677" y="367.5">47</text><text x="673" y="394">86</text></g>
<g id="n89C"><circle class="nv" cx="740" cy="350" r="17.2"/><text x="742" y="355.5">89C</text><text x="736" y="382">89</text></g>
<g id="n111"><circle class="nv" cx="812" cy="376" r="17.2"/><text x="812" y="381.5">111</text><text x="808" y="408">86</text></g>
<g id="n54C"><circle class="nv" cx="677" cy="425" r="17.2"/><text x="679" y="430.5">54C</text><text x="673" y="457">89</text></g>
<g id="n68C"><circle class="nv" cx="765" cy="425" r="17.2"/><text x="767" y="430.5">68C</text><text x="761" y="457">89</text></g>
<g id="n50C"><circle class="nv" cx="765" cy="466" r="17.2"/><text x="767" y="471.5">50C</text><text x="761" y="498">86</text></g>
<g id="n115C"><circle class="nv" cx="815" cy="473" r="17.2"/><text x="820" y="478.5">115C</text><text x="810" y="505">86</text></g>
<g id="n84C"><circle class="nv" cx="617" cy="486" r="17.2"/><text x="619" y="491.5">84C</text><text x="613" y="518">86</text></g>
<g id="n74"><circle class="nv" cx="740" cy="522" r="17.2"/><text x="738" y="527.5">74</text><text x="736" y="554">86</text></g>
<g id="n103"><circle class="gr" cx="524" cy="536" r="17.2"/><text x="526" y="541.5">103</text><text x="520" y="568">83</text></g>
<g id="n82C"><circle class="lv" cx="432" cy="560" r="17.2"/><text x="434" y="565.5">82C</text><text x="428" y="592">86</text></g>
<g id="n41C"><circle class="gr" cx="575" cy="585" r="17.2"/><text x="577" y="590.5">41C</text><text x="571" y="617">86</text></g>
<g id="n4C"><circle class="gr" cx="480" cy="597" r="17.2"/><text x="480" y="602.5">4C</text><text x="476" y="629">89</text></g>
<g id="n11C"><circle class="lv" cx="370" cy="597" r="17.2"/><text x="372" y="602.5">11C</text><text x="366" y="629">83</text></g>
<g id="n6C"><circle class="lv" cx="330" cy="646" r="17.2"/><text x="330" y="651.5">6C</text><text x="328" y="678">89</text></g>
<g id="n85C"><circle class="lv" cx="463" cy="646" r="17.2"/><text x="465" y="651.5">85C</text><text x="459" y="678">86</text></g>
<g id="n99C"><circle class="lv" cx="567" cy="646" r="17.2"/><text x="569" y="651.5">99C</text><text x="563" y="678">86</text></g>
<g id="n75C"><circle class="gr" cx="370" cy="682" r="17.2"/><text x="372" y="687.5">75C</text><text x="366" y="714">86</text></g>
<g id="n108C"><circle class="lv" cx="512" cy="694" r="17.2"/><text x="516" y="699.5">108C</text><text x="508" y="726">83</text></g>
<g id="n73C"><circle class="gr" cx="432" cy="744" r="17.2"/><text x="434" y="749.5">73C</text><text x="428" y="776">86</text></g>
<g id="n53"><circle class="gr" cx="555" cy="744" r="17.2"/><text x="553" y="749.5">53</text><text x="551" y="776">83</text></g>
<g id="n45C"><circle class="pu" cx="677" cy="621" r="17.2"/><text x="679" y="626.5">45C</text><text x="673" y="653">86</text></g>
<g id="n67C"><circle class="pu" cx="800" cy="597" r="17.2"/><text x="802" y="602.5">67C</text><text x="796" y="629">86</text></g>
<g id="n92C"><circle class="pu" cx="862" cy="621" r="17.2"/><text x="864" y="626.5">92C</text><text x="858" y="653">86</text></g>
<g id="n58C"><circle class="pu" cx="655" cy="682" r="17.2"/><text x="657" y="687.5">58C</text><text x="650" y="714">83</text></g>
<g id="n76C"><circle class="pu" cx="740" cy="682" r="17.2"/><text x="742" y="687.5">76C</text><text x="736" y="714">83</text></g>
<g id="n87C"><circle class="pu" cx="800" cy="682" r="17.2"/><text x="802" y="687.5">87C</text><text x="796" y="714">86</text></g>
<g id="n93C"><circle class="pu" cx="677" cy="744" r="17.2"/><text x="679" y="749.5">93C</text><text x="673" y="776">86</text></g>
<g id="n49C"><circle class="pu" cx="762" cy="768" r="17.2"/><text x="764" y="773.5">49C</text><text x="758" y="800">86</text></g>
<g id="n113C"><circle class="pu" cx="862" cy="744" r="17.2"/><text x="867" y="749.5">113C</text><text x="858" y="776">83</text></g>
<g id="n21C"><circle class="gn" cx="1108" cy="449" r="17.2"/><text x="1110" y="454.5">21C</text><text x="1104" y="481">86</text></g>
<g id="n71C"><circle class="gn" cx="1170" cy="473" r="17.2"/><text x="1172" y="478.5">71C</text><text x="1166" y="505">86</text></g>
<g id="n18C"><circle class="gn" cx="1046" cy="498" r="17.2"/><text x="1048" y="503.5">18C</text><text x="1042" y="530">86</text></g>
<g id="n96C"><circle class="gn" cx="985" cy="522" r="17.2"/><text x="987" y="527.5">96C</text><text x="981" y="554">83</text></g>
<g id="n28C"><circle class="gn" cx="1046" cy="560" r="17.2"/><text x="1048" y="565.5">28C</text><text x="1042" y="592">86</text></g>
<g id="n77C"><circle class="gn" cx="1108" cy="597" r="17.2"/><text x="1110" y="602.5">77C</text><text x="1104" y="629">86</text></g>
<g id="n63C"><circle class="gn" cx="985" cy="621" r="17.2"/><text x="987" y="626.5">63C</text><text x="981" y="653">86</text></g>
<g id="n57C"><circle class="gn" cx="1046" cy="621" r="17.2"/><text x="1048" y="626.5">57C</text><text x="1042" y="653">83</text></g>
<g id="n88C"><circle class="gn" cx="1232" cy="609" r="17.2"/><text x="1234" y="614.5">88C</text><text x="1227" y="641">86</text></g>
<g id="n97C"><circle class="gn" cx="1008" cy="682" r="17.2"/><text x="1010" y="687.5">97C</text><text x="1004" y="714">83</text></g>
<g id="n114C"><circle class="gn" cx="1232" cy="682" r="17.2"/><text x="1237" y="687.5">114C</text><text x="1227" y="714">83</text></g>
<g id="n66C"><circle class="gn" cx="1108" cy="768" r="17.2"/><text x="1110" y="773.5">66C</text><text x="1104" y="800">86</text></g>
</g>
</svg>
